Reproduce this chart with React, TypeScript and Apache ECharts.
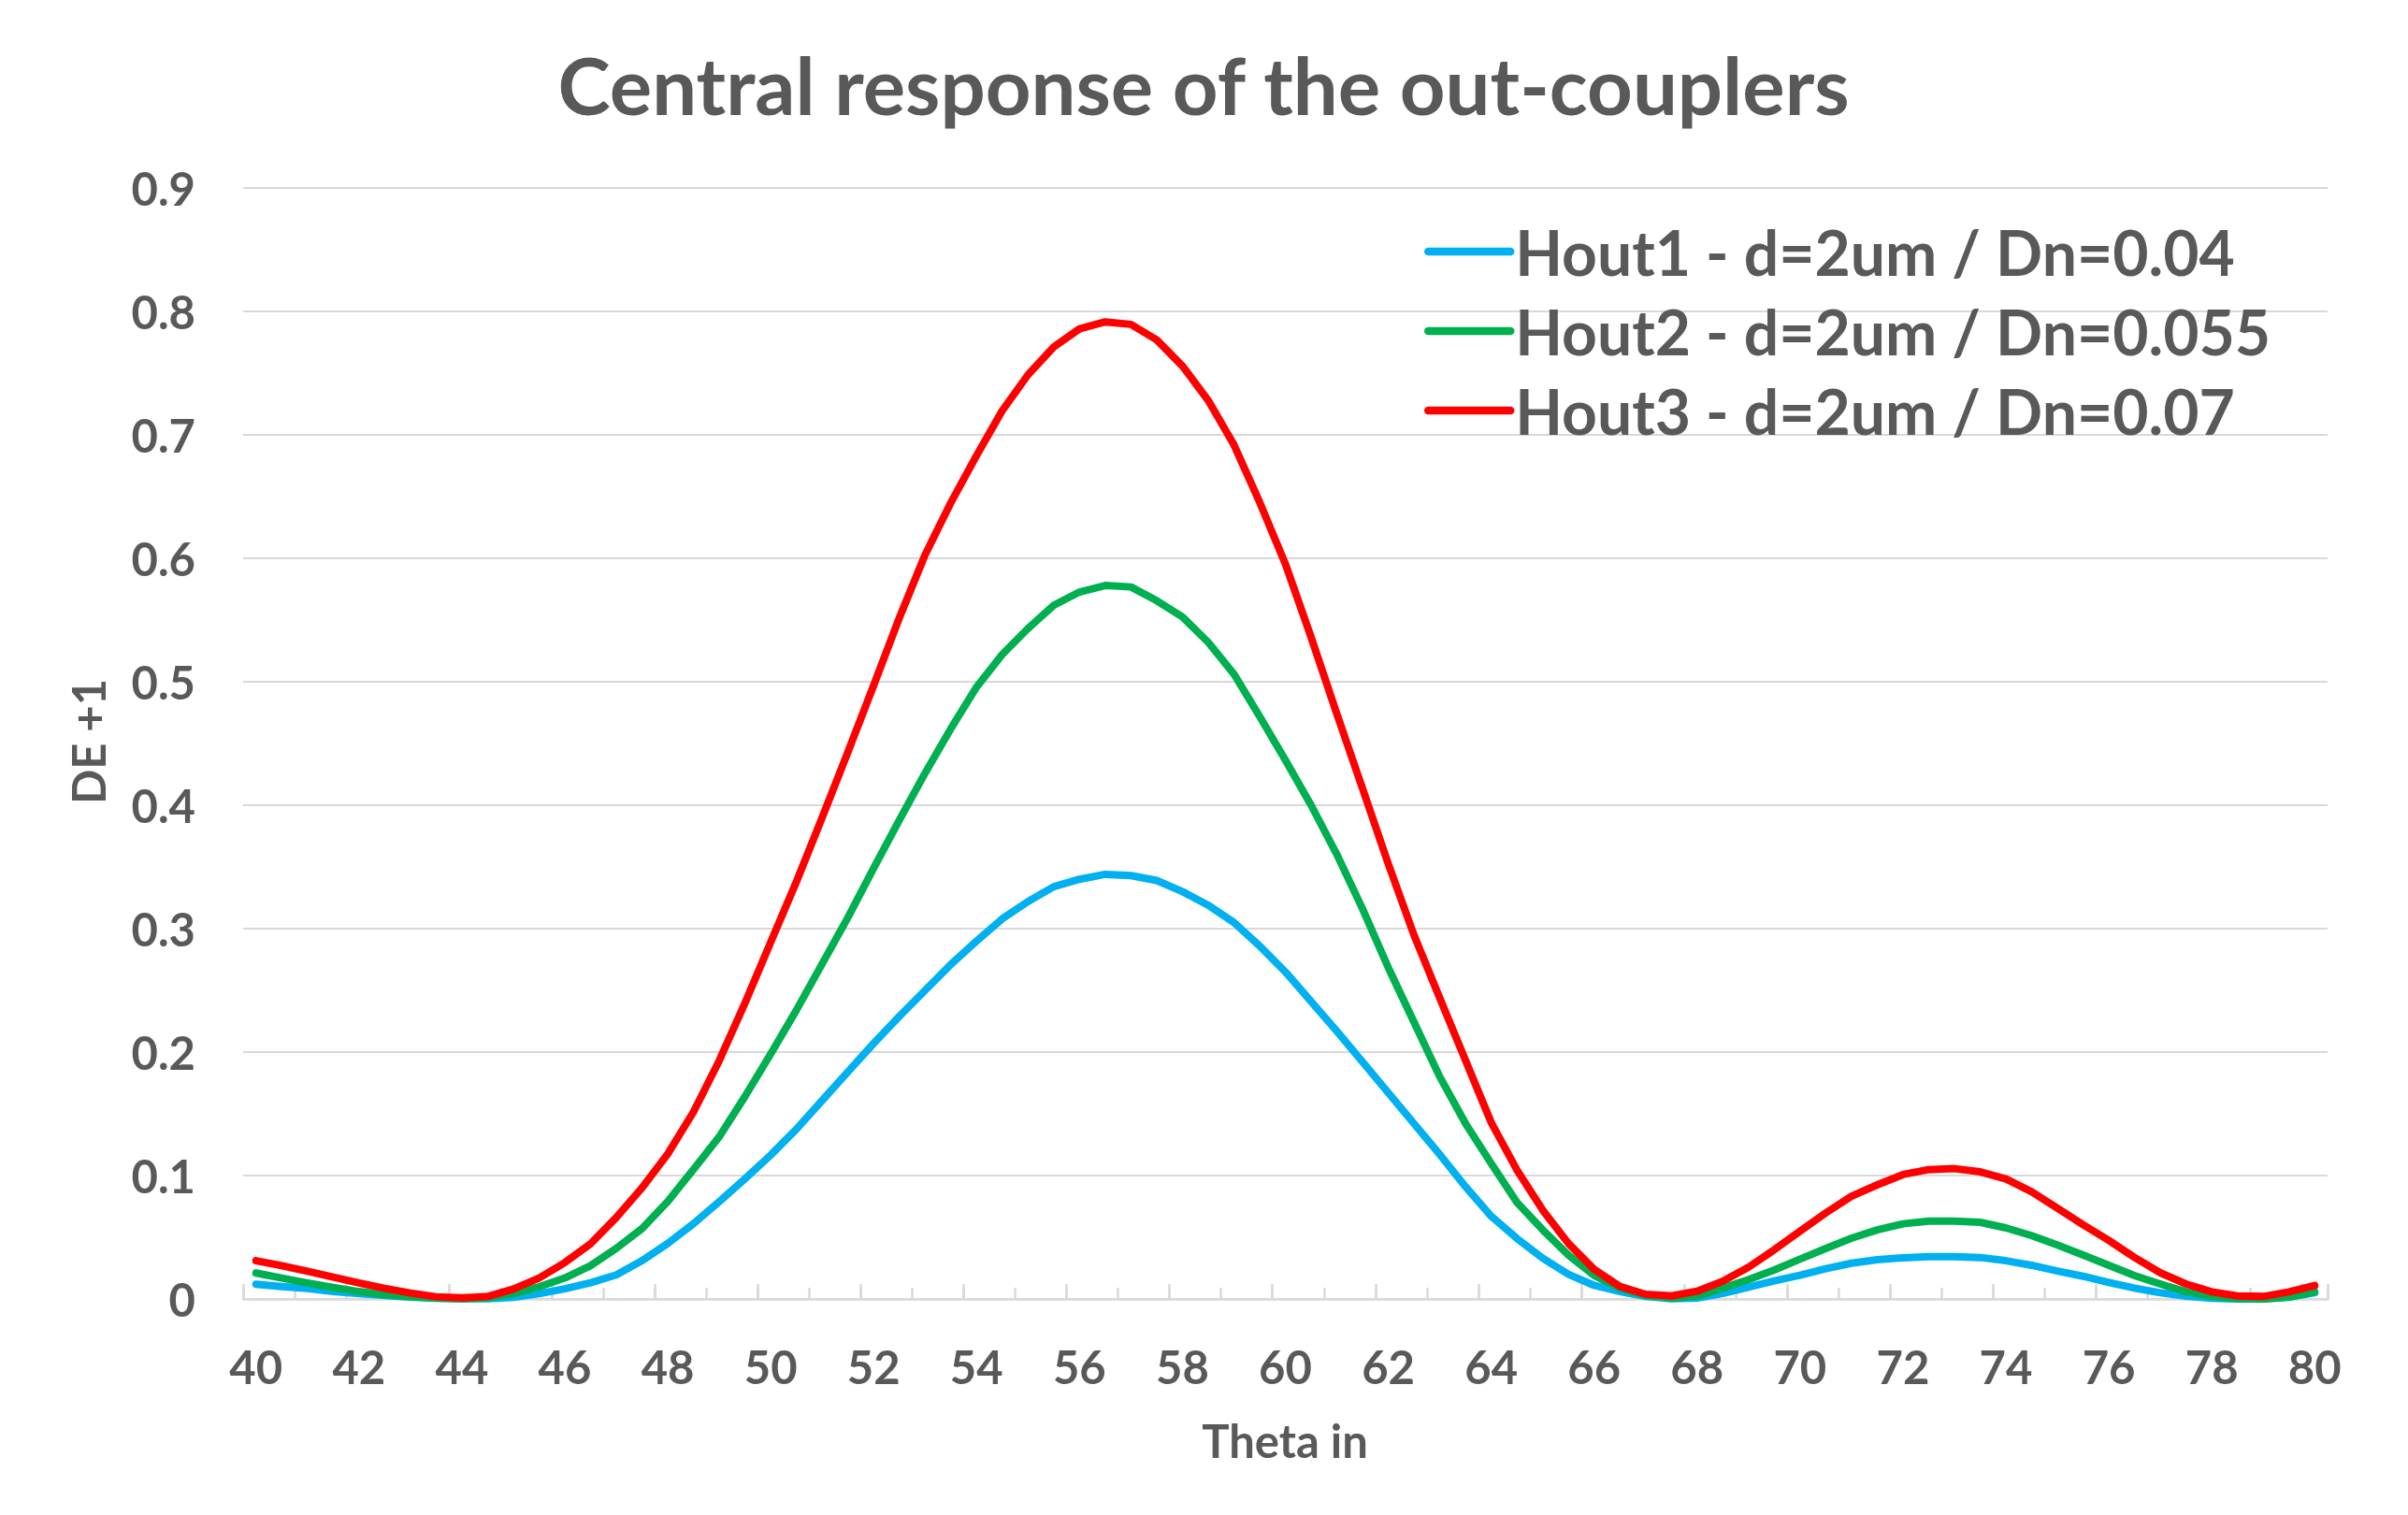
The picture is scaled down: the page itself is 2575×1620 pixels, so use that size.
import React, { useEffect, useRef } from 'react';
import * as echarts from 'echarts';

const theta = [
  40, 40.5, 41, 41.5, 42, 42.5, 43, 43.5, 44, 44.5,
  45, 45.5, 46, 46.5, 47, 47.5, 48, 48.5, 49, 49.5,
  50, 50.5, 51, 51.5, 52, 52.5, 53, 53.5, 54, 54.5,
  55, 55.5, 56, 56.5, 57, 57.5, 58, 58.5, 59, 59.5,
  60, 60.5, 61, 61.5, 62, 62.5, 63, 63.5, 64, 64.5,
  65, 65.5, 66, 66.5, 67, 67.5, 68, 68.5, 69, 69.5,
  70, 70.5, 71, 71.5, 72, 72.5, 73, 73.5, 74, 74.5,
  75, 75.5, 76, 76.5, 77, 77.5, 78, 78.5, 79, 79.5, 80,
];

const hout1 = [
  0.012, 0.010, 0.0085, 0.006, 0.0043, 0.0028, 0.0015, 0.0006, 0.0001, 0.0002,
  0.0013, 0.0043, 0.0082, 0.0132, 0.0195, 0.031, 0.045, 0.061, 0.0788, 0.0974,
  0.1166, 0.1376, 0.1608, 0.184, 0.207, 0.229, 0.25, 0.271, 0.29, 0.308,
  0.322, 0.334, 0.340, 0.344, 0.343, 0.339, 0.330, 0.319, 0.305, 0.286,
  0.265, 0.241, 0.217, 0.192, 0.167, 0.142, 0.117, 0.091, 0.067, 0.049,
  0.033, 0.02, 0.011, 0.006, 0.002, 0.0002, 0.0008, 0.0045, 0.0096, 0.0146,
  0.0192, 0.0245, 0.029, 0.0318, 0.0334, 0.0342, 0.0343, 0.0336, 0.031, 0.0273,
  0.0227, 0.0184, 0.0134, 0.0088, 0.005, 0.0023, 0.0005, 0.0, 0.0, 0.0015, 0.005,
];

const hout2 = [
  0.021, 0.017, 0.013, 0.0093, 0.006, 0.0035, 0.0018, 0.0007, 0.0002, 0.001,
  0.0043, 0.0098, 0.017, 0.027, 0.041, 0.057, 0.079, 0.105, 0.1314, 0.164,
  0.1985, 0.234, 0.2715, 0.309, 0.349, 0.388, 0.426, 0.462, 0.4957, 0.5222,
  0.5432, 0.5619, 0.5727, 0.578, 0.5768, 0.5657, 0.5525, 0.532, 0.5063, 0.472,
  0.4366, 0.400, 0.3602, 0.316, 0.2684, 0.2242, 0.18, 0.1422, 0.1098, 0.0782,
  0.056, 0.0355, 0.019, 0.0088, 0.003, 0.0008, 0.0023, 0.0088, 0.0157, 0.0235,
  0.0323, 0.0409, 0.0492, 0.056, 0.0609, 0.0631, 0.0631, 0.0621, 0.0576, 0.0513,
  0.0437, 0.0356, 0.0273, 0.0189, 0.0121, 0.0058, 0.002, 0.0003, 0, 0.0015, 0.0058,
];

const hout3 = [
  0.031, 0.027, 0.0225, 0.0177, 0.013, 0.0086, 0.0048, 0.0018, 0.001, 0.002,
  0.008, 0.017, 0.0295, 0.0447, 0.066, 0.090, 0.1175, 0.1515, 0.193, 0.2396,
  0.289, 0.338, 0.39, 0.443, 0.497, 0.5518, 0.6028, 0.645, 0.6833, 0.7197,
  0.7487, 0.7712, 0.7859, 0.7915, 0.7895, 0.777, 0.7558, 0.728, 0.692, 0.6455,
  0.5955, 0.5361, 0.474, 0.4134, 0.3525, 0.2947, 0.2437, 0.1933, 0.1429, 0.1045,
  0.072, 0.045, 0.024, 0.0101, 0.0038, 0.0025, 0.0063, 0.0144, 0.0258, 0.0399,
  0.055, 0.0697, 0.0833, 0.0924, 0.1008, 0.1048, 0.1056, 0.103, 0.0972, 0.0869,
  0.0735, 0.0601, 0.0475, 0.0336, 0.0212, 0.0121, 0.0058, 0.0025, 0.002, 0.0058, 0.0109,
];

const seriesNames = [
  'Hout1 - d=2um / Dn=0.04',
  'Hout2 - d=2um / Dn=0.055',
  'Hout3 - d=2um / Dn=0.07',
];
const seriesData = [hout1, hout2, hout3];
const seriesColors = ['#00B0F0', '#00B050', '#FF0000'];

const chartTitle = 'Central response of the out-couplers';
const xAxisTitle = 'Theta in';
const yAxisTitle = 'DE +1';

const TEXT = '#595959';
const GRID = '#D9D9D9';
const FONT = 'Lato';

export default function App() {
  const ref = useRef<HTMLDivElement>(null);

  useEffect(() => {
    const chart = echarts.init(ref.current as HTMLDivElement, null, { renderer: 'svg' });
    const cats = theta.map((t) => String(t));
    chart.setOption({
      animation: false,
      backgroundColor: '#FFFFFF',
      grid: { left: 260, right: 86, top: 201, bottom: 231, containLabel: false },
      xAxis: [
        {
          type: 'category',
          data: cats,
          boundaryGap: true,
          axisLine: { show: true, lineStyle: { color: GRID, width: 2.5 } },
          axisTick: { show: true, inside: true, interval: 1, length: 12, lineStyle: { color: GRID, width: 2.5 } },
          axisLabel: {
            interval: 3,
            margin: 47,
            color: TEXT,
            fontFamily: FONT,
            fontWeight: 'bold',
            fontSize: 49,
          },
          splitLine: { show: false },
        },
        {
          type: 'category',
          data: cats,
          boundaryGap: true,
          position: 'bottom',
          axisLine: { show: false },
          axisTick: { show: true, inside: true, interval: 3, length: 16, lineStyle: { color: GRID, width: 2.5 } },
          axisLabel: { show: false },
          splitLine: { show: false },
        },
      ],
      yAxis: {
        type: 'value',
        min: 0,
        max: 0.9,
        interval: 0.1,
        axisLine: { show: false },
        axisTick: { show: false },
        axisLabel: {
          margin: 51,
          color: TEXT,
          fontFamily: FONT,
          fontWeight: 'bold',
          fontSize: 49,
          formatter: (v: number) => String(Math.round(v * 10) / 10),
        },
        splitLine: { show: true, lineStyle: { color: GRID, width: 2 } },
      },
      legend: {
        orient: 'vertical',
        left: 1518,
        top: 228,
        itemWidth: 88,
        itemHeight: 10,
        itemGap: 13,
        data: seriesNames,
        lineStyle: { width: 8.5, cap: 'round' },
        textStyle: {
          color: TEXT,
          fontFamily: FONT,
          fontWeight: 'bold',
          fontSize: 66,
          lineHeight: 72,
        },
      },
      series: seriesNames.map((name, i) => ({
        name,
        type: 'line',
        data: seriesData[i],
        xAxisIndex: 0,
        symbol: 'none',
        smooth: false,
        color: seriesColors[i],
        lineStyle: { color: seriesColors[i], width: 8, cap: 'round', join: 'round' },
      })),
      graphic: [
        {
          type: 'text',
          x: 1287,
          y: 90,
          style: {
            text: chartTitle,
            fill: TEXT,
            fontFamily: FONT,
            fontWeight: 'bold',
            fontSize: 85,
            align: 'center',
            verticalAlign: 'middle',
          },
        },
        {
          type: 'text',
          x: 1374,
          y: 1540,
          style: {
            text: xAxisTitle,
            fill: TEXT,
            fontFamily: FONT,
            fontWeight: 'bold',
            fontSize: 49,
            align: 'center',
            verticalAlign: 'middle',
          },
        },
        {
          type: 'text',
          x: 94,
          y: 793,
          rotation: Math.PI / 2,
          style: {
            text: yAxisTitle,
            fill: TEXT,
            fontFamily: FONT,
            fontWeight: 'bold',
            fontSize: 49,
            align: 'center',
            verticalAlign: 'middle',
          },
        },
      ],
    });
    return () => chart.dispose();
  }, []);

  return (
    <div
      ref={ref}
      style={{ position: 'absolute', left: 0, top: 0, width: 2575, height: 1620, background: '#FFFFFF' }}
    />
  );
}
